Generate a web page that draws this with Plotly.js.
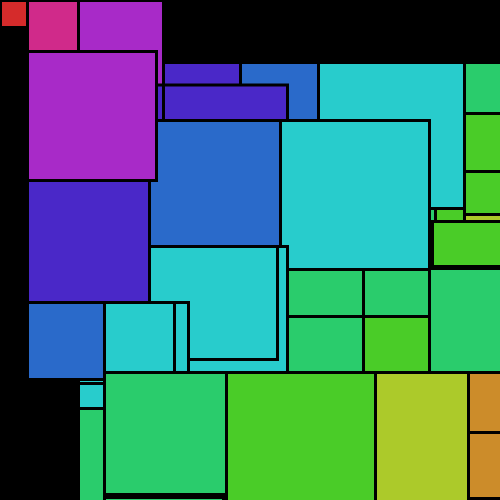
<!DOCTYPE html>
<html>
<head>
<meta charset="utf-8">
<script src="https://cdn.plot.ly/plotly-3.0.1.min.js"></script>
<style>html,body{margin:0;padding:0;background:#000;}#chart{width:500px;height:500px;}</style>
</head>
<body>
<div id="chart"></div>
<script>
// Rectangle data (drawn back to front)
const rectX0 = [0.5, 27.5, 78.5, 163.5, 240.5, 318.5, 163.5, 156.5, 149.5, 280.5, 27.5, 27.5, 149.5, 149.5, 27.5, 104.5, 174.5, 287.5, 363.5, 287.5, 363.5, 432.5, 429.5, 464.5, 464.5, 464.5, 464.5, 429.5, 435.5, 78.5, 78.5, 78.5, 104.5, 104.5, 226.5, 375.5, 468.5, 468.5];
const rectX1 = [27.5, 78.5, 163.5, 240.5, 318.5, 464.5, 287.5, 163.5, 280.5, 429.5, 156.5, 149.5, 287.5, 277.5, 104.5, 174.5, 188.5, 363.5, 429.5, 363.5, 429.5, 510, 510, 510, 510, 510, 510, 435.5, 464.5, 104.5, 104.5, 104.5, 223.5, 226.5, 375.5, 468.5, 510, 510];
const rectY0 = [0.5, 0.5, 0.5, 62.5, 62.5, 62.5, 85, 85, 120.5, 120.5, 51.5, 180.5, 246.5, 246.5, 302.5, 302.5, 302.5, 269.5, 269.5, 316.5, 316.5, 221.5, 268.5, 62.5, 113.5, 171.5, 214.5, 208.5, 208.5, 379.5, 383.5, 408.5, 497.5, 372.5, 372.5, 372.5, 372.5, 432.5];
const rectY1 = [27.5, 51.5, 100, 120.5, 120.5, 208.5, 120.5, 120.5, 246.5, 269.5, 180.5, 302.5, 372.5, 359.5, 379.5, 372.5, 372.5, 316.5, 316.5, 372.5, 372.5, 266.5, 372.5, 113.5, 171.5, 214.5, 221.5, 221.5, 221.5, 383.5, 408.5, 510, 520, 494.5, 510, 510, 432.5, 498.5];
const rectGroup = ["red", "pink", "purple", "indigo", "blue", "cyan", "indigo", "indigo", "blue", "cyan", "purple", "indigo", "cyan", "cyan", "blue", "cyan", "cyan", "green", "green", "green", "lime", "lime", "green", "green", "lime", "lime", "ygreen", "green", "lime", "cyan", "cyan", "green", "green", "green", "lime", "ygreen", "orange", "orange"];

const palette = {
  red: "#d52b2b", pink: "#d02a8a", purple: "#a82ac8", indigo: "#4a28c8",
  blue: "#2a6aca", cyan: "#28cccc", green: "#2acc6c", lime: "#4acc28",
  ygreen: "#acca2a", orange: "#cc8c2a"
};

const shapes = rectX0.map((x0, i) => ({
  type: "rect", xref: "x", yref: "y",
  x0: x0, x1: rectX1[i], y0: rectY0[i], y1: rectY1[i],
  fillcolor: palette[rectGroup[i]],
  line: {color: "#000000", width: 3},
  layer: "above"
}));

const layout = {
  width: 500, height: 500,
  margin: {l: 0, r: 0, t: 0, b: 0, pad: 0},
  paper_bgcolor: "#000000", plot_bgcolor: "#000000",
  xaxis: {range: [0, 500], visible: false, fixedrange: true},
  yaxis: {range: [500, 0], visible: false, fixedrange: true},
  showlegend: false,
  shapes: shapes
};

Plotly.newPlot("chart", [{x: [], y: [], type: "scatter", mode: "markers"}], layout, {staticPlot: true, displayModeBar: false});
</script>
</body>
</html>
